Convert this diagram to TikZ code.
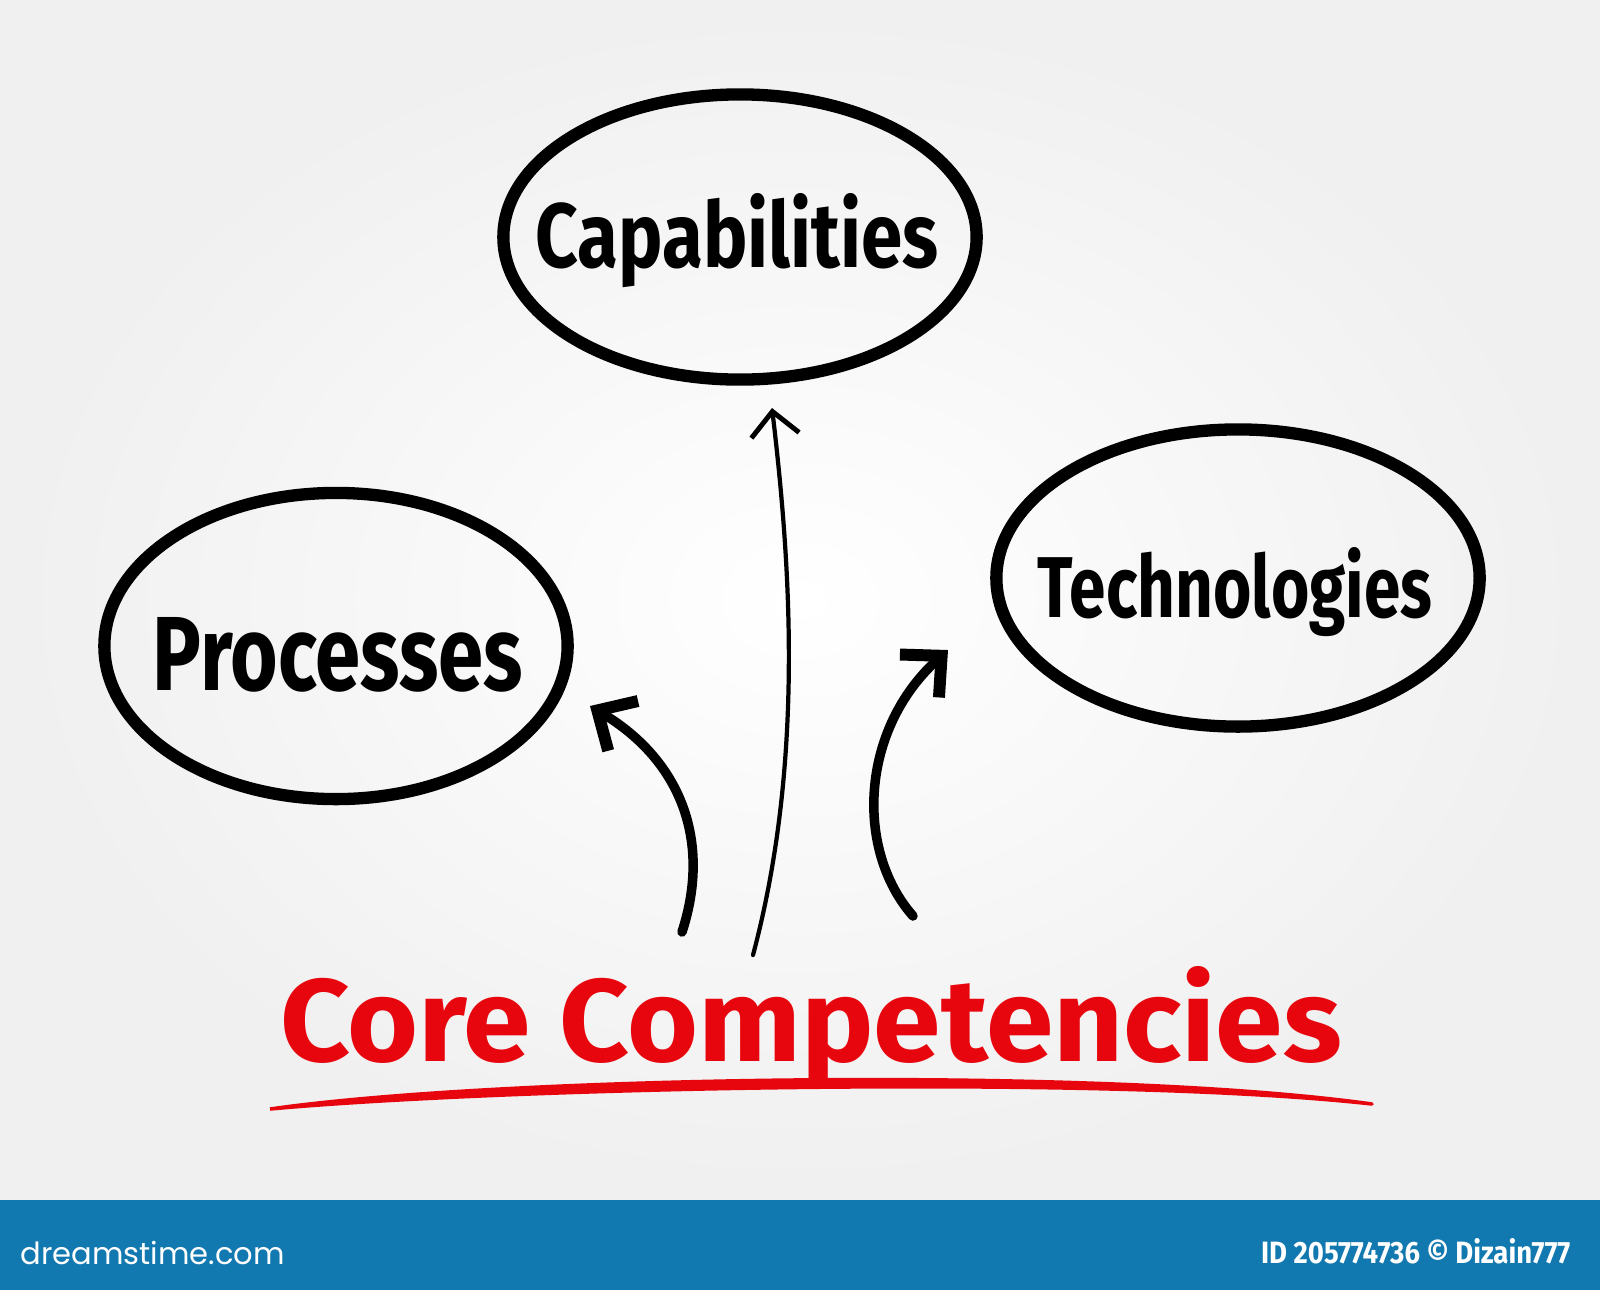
\documentclass[tikz,border=0pt]{standalone}
\usepackage{fontspec}
\setmainfont{Fira Sans}
\newfontfamily\logofont{Poppins}
\usetikzlibrary{shapes.geometric,arrows.meta}
\definecolor{barblue}{RGB}{17,120,176}
\definecolor{markred}{RGB}{232,6,14}
\begin{document}
\begin{tikzpicture}[x=0.01cm,y=-0.01cm,
    bubble/.style={ellipse,draw,line width=3.5pt,inner sep=0pt},
    word/.style={anchor=base,inner sep=0pt},
    thin arrow/.style={line width=1.2pt,line cap=round,-{Straight Barb[length=2.4mm,width=4.8mm,line width=1.4pt]}},
    bold arrow/.style={line width=2.7pt,line cap=round,-{Straight Barb[length=3mm,width=5.8mm,line width=3.4pt]}}]
  \useasboundingbox (0,0) rectangle (1600,1290);
  \shade[inner color=white,outer color=black!6] (0,0) rectangle (1600,1200);
  \fill[barblue] (0,1200) rectangle (1600,1290);
  % bubbles
  \node[bubble,minimum width=4.73cm,minimum height=2.85cm] (cap) at (740,237) {};
  \node[bubble,minimum width=4.63cm,minimum height=3.06cm] (proc) at (336,646) {};
  \node[bubble,minimum width=4.83cm,minimum height=2.97cm] (tech) at (1238,578) {};
  \node[word] (captext) at (737,267) {\resizebox{4.03cm}{0.74cm}{\bfseries Capabilities}};
  \node[word] (proctext) at (338,690) {\resizebox{3.70cm}{0.73cm}{\bfseries Processes}};
  \node[word] (techtext) at (1235,617) {\resizebox{3.94cm}{0.70cm}{\bfseries Technologies}};
  % title
  \node[word,text=markred] (title) at (811,1061) {\resizebox{10.61cm}{0.95cm}{\bfseries Core Competencies}};
  \fill[markred,draw=markred,line width=1pt,line join=round]
    (270,1109) .. controls (500,1076) and (1100,1066) .. (1372,1104)
    .. controls (1100,1074) and (500,1088) .. (270,1109);
  % arrows
  \coordinate (tailL) at (682,932);
  \coordinate (tipL) at (590,706);
  \coordinate (tailM) at (753,955);
  \coordinate (tipM) at (772,408);
  \coordinate (tailR) at (913,916);
  \coordinate (tipR) at (948,650);
  \draw[bold arrow] (tailL) .. controls (712,840) and (680,760) .. (tipL);
  \draw[thin arrow] (tailM) .. controls (805,760) and (790,560) .. (tipM);
  \draw[bold arrow] (tailR) .. controls (855,850) and (860,730) .. (tipR);
  % footer
  \node[anchor=base west,inner sep=0pt,text=white] (logo) at (20,1264) {\resizebox{2.64cm}{!}{\logofont dreamstime.com}};
  \node[anchor=base east,inner sep=0pt,text=white] (imgid) at (1571,1263) {\resizebox{3.09cm}{0.25cm}{\bfseries ID 205774736 © Dizain777}};
\end{tikzpicture}
\end{document}
